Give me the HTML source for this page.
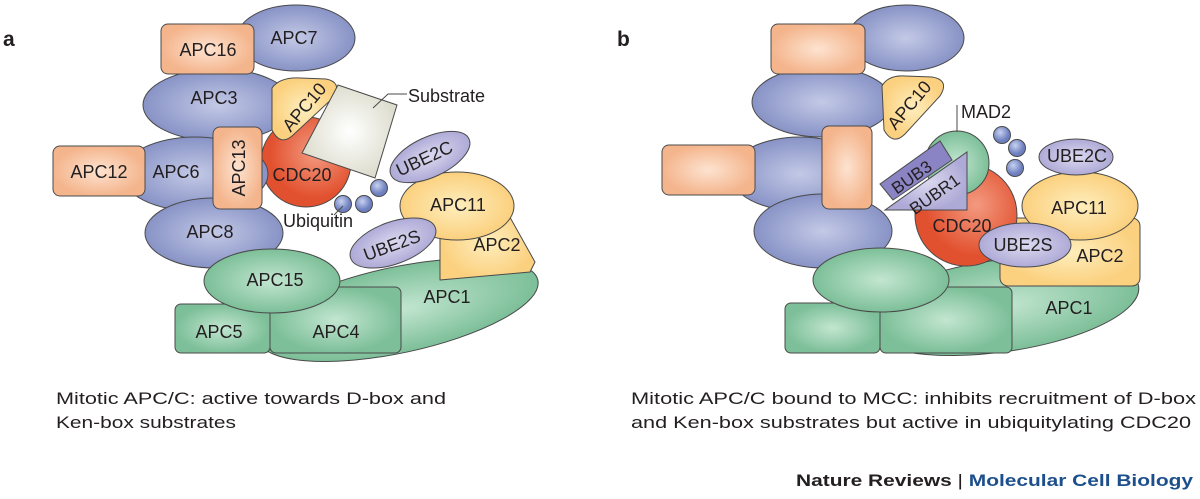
<!DOCTYPE html>
<html><head><meta charset="utf-8"><style>
html,body{margin:0;padding:0;background:#fff;}
svg{display:block;}
text{font-family:"Liberation Sans",sans-serif;fill:#231f20;}
</style></head><body>
<svg width="1200" height="499" viewBox="0 0 1200 499" xmlns="http://www.w3.org/2000/svg">
<defs>
<radialGradient id="bl"><stop offset="0" stop-color="#c3c9e6"/><stop offset="1" stop-color="#8893c6"/></radialGradient>
<radialGradient id="or"><stop offset="0" stop-color="#fde3d0"/><stop offset="1" stop-color="#f4b58d"/></radialGradient>
<radialGradient id="ye"><stop offset="0" stop-color="#feeebd"/><stop offset="1" stop-color="#fbd07e"/></radialGradient>
<radialGradient id="gr"><stop offset="0" stop-color="#c3e6d1"/><stop offset="1" stop-color="#7cbf98"/></radialGradient>
<radialGradient id="rd" cx="0.6" cy="0.4"><stop offset="0" stop-color="#f39a80"/><stop offset="1" stop-color="#e2512f"/></radialGradient>
<radialGradient id="lv"><stop offset="0" stop-color="#dcdaf0"/><stop offset="1" stop-color="#aeaad7"/></radialGradient>
<radialGradient id="sb"><stop offset="0" stop-color="#ffffff"/><stop offset="1" stop-color="#deded0"/></radialGradient>
<radialGradient id="ub" cx="0.4" cy="0.35"><stop offset="0" stop-color="#c8d2f0"/><stop offset="1" stop-color="#6d7fbf"/></radialGradient>
</defs>
<g stroke="#4a4a4a" stroke-width="1">
<!-- PANEL A -->
<ellipse cx="398" cy="310" rx="143" ry="43" transform="rotate(-12 398 310)" fill="url(#gr)"/>
<polygon points="440,215 502,203 535,262 530,272 440,280" fill="url(#ye)" stroke-linejoin="round"/>
<ellipse cx="457" cy="206" rx="57" ry="34" fill="url(#ye)"/>
<ellipse cx="430" cy="157" rx="43" ry="20" transform="rotate(-25 430 157)" fill="url(#lv)"/>
<ellipse cx="393" cy="243" rx="45" ry="21" transform="rotate(-20 393 243)" fill="url(#lv)"/>
<ellipse cx="296" cy="38" rx="59" ry="33" fill="url(#bl)"/>
<ellipse cx="218" cy="105" rx="75" ry="36" fill="url(#bl)"/>
<rect x="161" y="24" width="93" height="50" rx="7" fill="url(#or)"/>
<circle cx="306" cy="162" r="45" fill="url(#rd)"/>
<ellipse cx="195" cy="174" rx="73" ry="37" fill="url(#bl)"/>
<ellipse cx="214" cy="233" rx="69" ry="35" fill="url(#bl)"/>
<rect x="53" y="146" width="92" height="50" rx="7" fill="url(#or)"/>
<rect x="213" y="127" width="49" height="82" rx="7" fill="url(#or)"/>
<path d="M272,88 Q280,77 300,78 L326,79 Q342,82 334,97 L292,136 Q280,146 272,130 Z" fill="url(#ye)"/>
<polygon points="338,85 397,105 375,178 302,153" fill="url(#sb)"/>
<rect x="270" y="287" width="131" height="66" rx="6" fill="url(#gr)"/>
<rect x="175" y="304" width="95" height="49" rx="6" fill="url(#gr)"/>
<ellipse cx="272" cy="281" rx="68" ry="32" fill="url(#gr)"/>
<circle cx="343" cy="204" r="8.5" fill="url(#ub)"/>
<circle cx="364" cy="204" r="8.5" fill="url(#ub)"/>
<circle cx="379" cy="188" r="8.5" fill="url(#ub)"/>
<polyline points="373,108 388,94 407,94" fill="none"/>
<line x1="343" y1="206" x2="334" y2="215"/>
<!-- PANEL B -->
<ellipse cx="1000" cy="306" rx="140" ry="46" transform="rotate(-8 1000 306)" fill="url(#gr)"/>
<rect x="1000" y="218" width="140" height="68" rx="8" fill="url(#ye)"/>
<ellipse cx="1080" cy="206" rx="58" ry="34" fill="url(#ye)"/>
<ellipse cx="1076" cy="157" rx="37" ry="18" fill="url(#lv)"/>
<ellipse cx="906" cy="38" rx="58" ry="33" fill="url(#bl)"/>
<ellipse cx="822" cy="102" rx="70" ry="35" fill="url(#bl)"/>
<rect x="771" y="24" width="94" height="50" rx="7" fill="url(#or)"/>
<path d="M882,86 Q888,75 905,76 L932,77 Q950,80 940,96 L905,134 Q893,146 884,130 Z" fill="url(#ye)"/>
<ellipse cx="800" cy="174" rx="70" ry="37" fill="url(#bl)"/>
<ellipse cx="823" cy="231" rx="69" ry="37" fill="url(#bl)"/>
<rect x="662" y="145" width="93" height="50" rx="7" fill="url(#or)"/>
<rect x="822" y="126" width="50" height="83" rx="7" fill="url(#or)"/>
<ellipse cx="966" cy="215" rx="51" ry="51" fill="url(#rd)"/>
<circle cx="957" cy="163" r="32" fill="url(#gr)"/>
<polygon points="880,184 940,141 952,160 893,200" fill="#8a84c4"/>
<polygon points="885,210 967,152 967,210" fill="url(#lv)"/>
<ellipse cx="1025" cy="245" rx="46" ry="22" fill="url(#lv)"/>
<rect x="880" y="287" width="132" height="66" rx="6" fill="url(#gr)"/>
<rect x="785" y="303" width="95" height="50" rx="6" fill="url(#gr)"/>
<ellipse cx="881" cy="280" rx="68" ry="32" fill="url(#gr)"/>
<circle cx="1002" cy="135" r="8.5" fill="url(#ub)"/>
<circle cx="1017" cy="148" r="8.5" fill="url(#ub)"/>
<circle cx="1015" cy="168" r="8.5" fill="url(#ub)"/>
<line x1="957" y1="105" x2="957" y2="132"/>
</g>
<g font-size="18" text-anchor="middle">
<text x="294" y="44">APC7</text>
<text x="208" y="56">APC16</text>
<text x="214" y="104">APC3</text>
<text x="99" y="178">APC12</text>
<text x="176" y="178">APC6</text>
<text transform="translate(245 168) rotate(-90)">APC13</text>
<text x="302" y="181">CDC20</text>
<text transform="translate(309 111) rotate(-50)">APC10</text>
<text transform="translate(427 164) rotate(-25)">UBE2C</text>
<text x="458" y="211">APC11</text>
<text x="497" y="251">APC2</text>
<text transform="translate(394 251) rotate(-20)">UBE2S</text>
<text x="210" y="238">APC8</text>
<text x="275" y="286">APC15</text>
<text x="447" y="303">APC1</text>
<text x="219" y="338">APC5</text>
<text x="336" y="338">APC4</text>
<text transform="translate(914 109) rotate(-50)">APC10</text>
<text transform="translate(915 182) rotate(-35)" font-size="17">BUB3</text>
<text transform="translate(938 199) rotate(-35)" font-size="17">BUBR1</text>
<text x="962" y="232">CDC20</text>
<text x="1077" y="162">UBE2C</text>
<text x="1079" y="214">APC11</text>
<text x="1023" y="251">UBE2S</text>
<text x="1100" y="262">APC2</text>
<text x="1069" y="314">APC1</text>
</g>
<text x="408" y="102" font-size="18">Substrate</text>
<text x="283" y="227" font-size="18">Ubiquitin</text>
<text x="961" y="118" font-size="18">MAD2</text>
<text x="3" y="46" font-size="21" font-weight="bold">a</text>
<text x="617" y="46" font-size="21" font-weight="bold">b</text>
<g font-size="17" fill="#333">
<text x="56" y="404" textLength="390" lengthAdjust="spacingAndGlyphs">Mitotic APC/C: active towards D-box and</text>
<text x="56" y="428" textLength="180" lengthAdjust="spacingAndGlyphs">Ken-box substrates</text>
<text x="631" y="404" textLength="565" lengthAdjust="spacingAndGlyphs">Mitotic APC/C bound to MCC: inhibits recruitment of D-box</text>
<text x="631" y="428" textLength="560" lengthAdjust="spacingAndGlyphs">and Ken-box substrates but active in ubiquitylating CDC20</text>
</g>
<text x="796" y="486" font-size="17" font-weight="bold" textLength="397" lengthAdjust="spacingAndGlyphs"><tspan fill="#231f20">Nature Reviews</tspan><tspan fill="#231f20" font-weight="normal"> | </tspan><tspan fill="#1d4f8c">Molecular Cell Biology</tspan></text>
</svg>
</body></html>
